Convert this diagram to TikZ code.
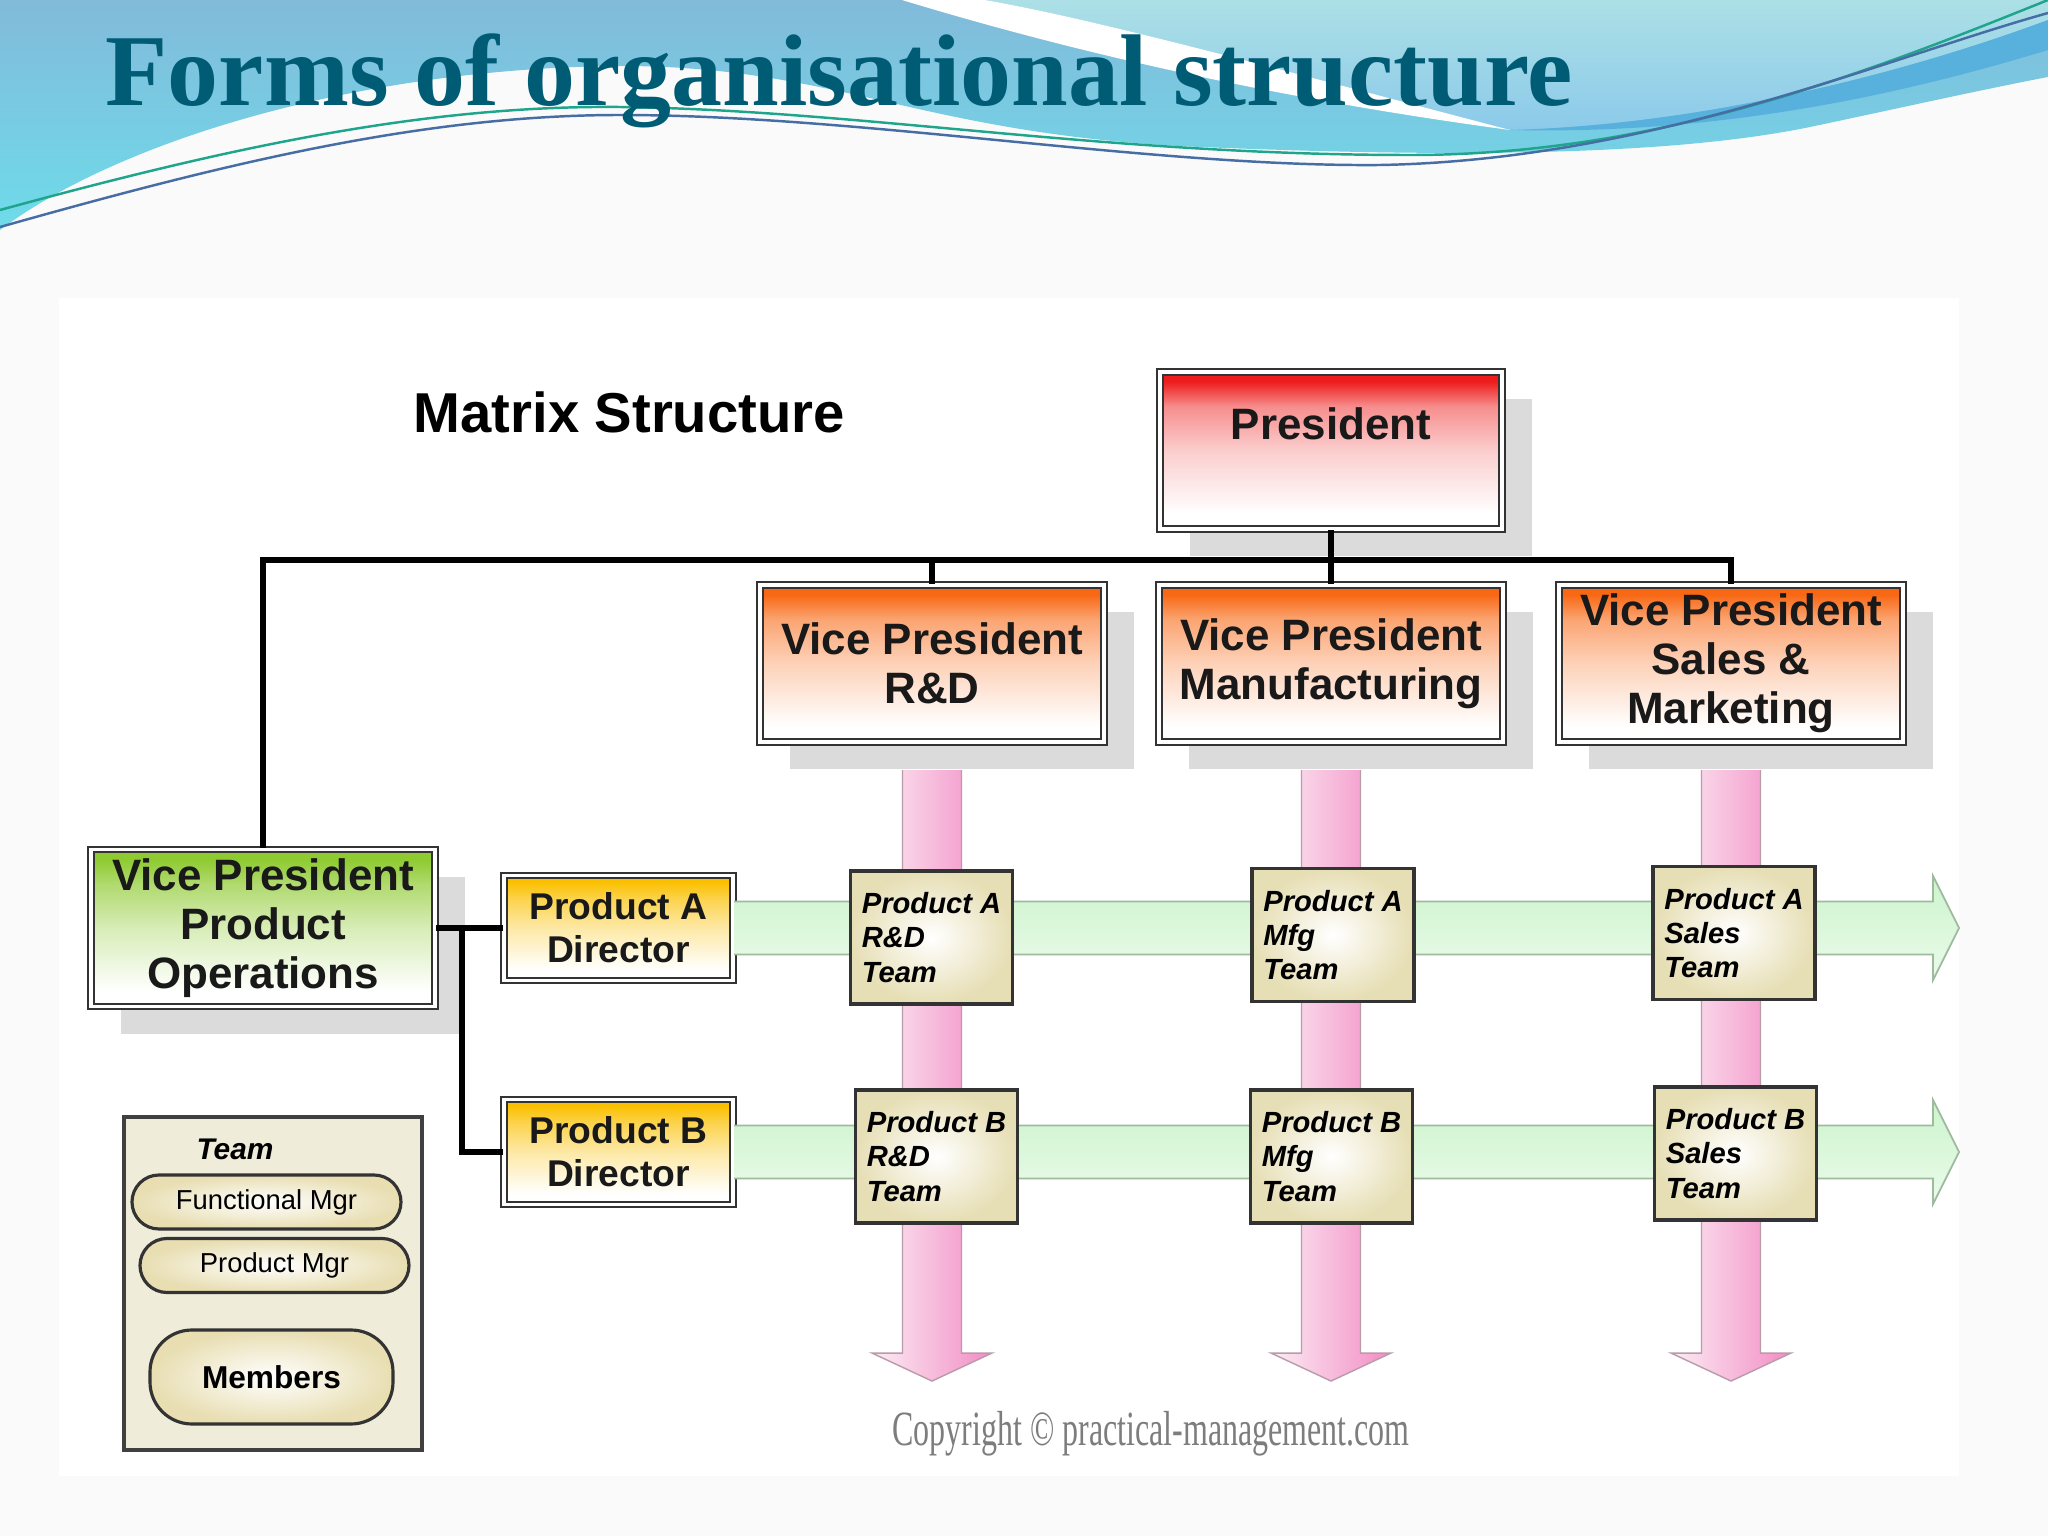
\documentclass[tikz,border=0pt]{standalone}
\usepackage{fontspec}
\setmainfont{Liberation Serif}
\setsansfont{Liberation Sans}
\usetikzlibrary{calc,shadows,shapes.misc}

\definecolor{titleteal}{RGB}{0,92,116}
\definecolor{skyblue}{RGB}{130,186,218}
\definecolor{skycyan}{RGB}{110,220,234}
\definecolor{palecyan}{RGB}{172,224,230}
\definecolor{softblue}{RGB}{140,202,234}
\definecolor{deepcyan}{RGB}{88,176,220}
\definecolor{waveteal}{RGB}{30,165,140}
\definecolor{waveblue}{RGB}{70,110,165}
\definecolor{presred}{RGB}{238,28,28}
\definecolor{vporange}{RGB}{248,104,20}
\definecolor{opsgreen}{RGB}{142,202,48}
\definecolor{dirgold}{RGB}{250,192,0}
\definecolor{teamtan}{RGB}{230,222,180}
\definecolor{ovaltan}{RGB}{232,222,178}
\definecolor{legendtan}{RGB}{239,237,218}
\definecolor{pinklight}{RGB}{252,236,244}
\definecolor{pinkdeep}{RGB}{242,140,196}
\definecolor{pinkedge}{RGB}{185,155,170}
\definecolor{mint}{RGB}{204,244,204}
\definecolor{mintedge}{RGB}{160,186,160}
\definecolor{inkgrey}{RGB}{125,125,125}

\pgfdeclareverticalshading{presfade}{100bp}{color(0bp)=(white); color(30bp)=(white); color(50bp)=(presred!22!white); color(64bp)=(presred!50!white); color(72bp)=(presred); color(100bp)=(presred)}
\pgfdeclareverticalshading{vpfade}{100bp}{color(0bp)=(white); color(30bp)=(white); color(50bp)=(vporange!30!white); color(64bp)=(vporange!60!white); color(72bp)=(vporange); color(100bp)=(vporange)}
\pgfdeclareverticalshading{opsfade}{100bp}{color(0bp)=(white); color(30bp)=(white); color(50bp)=(opsgreen!35!white); color(64bp)=(opsgreen!70!white); color(72bp)=(opsgreen); color(100bp)=(opsgreen)}
\pgfdeclareverticalshading{dirfade}{100bp}{color(0bp)=(white); color(30bp)=(white); color(50bp)=(dirgold!35!white); color(64bp)=(dirgold!70!white); color(72bp)=(dirgold); color(100bp)=(dirgold)}

\begin{document}
\begin{tikzpicture}[
  font=\sffamily,
  wire/.style={draw=black, line width=1.8pt},
  box/.style={draw=black!80, double=white, double distance=0.9pt, line width=0.6pt, shade,
              align=center, text=black!90, font=\sffamily\bfseries\fontsize{12.5}{14}\selectfont},
  boxshadow/.style={drop shadow={shadow xshift=0.3cm, shadow yshift=-0.27cm, fill=black!14, opacity=1}},
  boss/.style={box, boxshadow, shading=presfade, minimum width=3.42cm, minimum height=1.57cm,
               text height=0.35cm, text depth=0.56cm},
  vp/.style={box, boxshadow, shading=vpfade, minimum width=3.44cm, minimum height=1.57cm, inner sep=0pt},
  ops/.style={box, boxshadow, shading=opsfade, minimum width=3.44cm, minimum height=1.57cm, inner sep=0pt},
  director/.style={box, shading=dirfade, minimum width=2.29cm, minimum height=1.05cm, inner sep=0pt,
                   font=\sffamily\bfseries\fontsize{10.6}{12.2}\selectfont},
  team/.style={draw=black!80, line width=1pt, shade, inner color=white, outer color=teamtan,
               minimum width=1.62cm, minimum height=1.33cm, inner sep=0pt, align=left,
               font=\sffamily\bfseries\itshape\fontsize{8.3}{9.7}\selectfont},
  keybox/.style={draw=black!75, line width=1pt, fill=legendtan, minimum width=2.98cm, minimum height=3.33cm},
  keyhead/.style={inner sep=0pt, font=\sffamily\bfseries\itshape\fontsize{8.5}{10}\selectfont},
  mgr/.style={rounded rectangle, draw=black!80, line width=0.9pt, shade, inner color=white, outer color=ovaltan,
              minimum width=2.69cm, minimum height=0.54cm, inner sep=0pt, font=\sffamily\fontsize{7.8}{9}\selectfont},
  members/.style={rectangle, rounded corners=0.42cm, draw=black!80, line width=0.9pt, shade, inner color=white,
                  outer color=ovaltan, minimum width=2.43cm, minimum height=0.94cm,
                  font=\sffamily\bfseries\fontsize{9}{11}\selectfont}
]
\useasboundingbox (0,0) rectangle (20.48,-15.36);

% slide and header
\fill[black!2] (0,0) rectangle (20.48,-15.36);
\fill[white] (0.59,-2.98) rectangle (19.59,-14.76);
\shade[top color=skyblue, bottom color=skycyan] (0,0) -- (20.48,0) -- (20.48,-0.77)
  .. controls (19.8,-0.9) and (19.0,-1.08) .. (18.1,-1.27)
  .. controls (16.5,-1.6) and (14.0,-1.55) .. (12.0,-1.47)
  .. controls (9.2,-1.35) and (8.4,-0.66) .. (6.2,-0.66)
  .. controls (3.6,-0.68) and (1.2,-1.4) .. (0,-2.30) -- cycle;
\shade[top color=palecyan, bottom color=softblue] (9.85,0) -- (20.48,0) -- (20.48,-0.2)
  .. controls (19.0,-0.75) and (17.0,-1.25) .. (15.1,-1.30)
  .. controls (13.0,-0.75) and (11.0,-0.2) .. (9.85,0) -- cycle;
\fill[deepcyan] (20.48,-0.2) .. controls (19.0,-0.75) and (17.0,-1.25) .. (15.1,-1.30)
  .. controls (17.2,-1.35) and (19.0,-0.95) .. (20.48,-0.5) -- cycle;
\fill[white] (9.02,0) .. controls (10.5,-0.45) and (12.5,-0.95) .. (15.1,-1.30)
  .. controls (13.0,-0.75) and (11.0,-0.2) .. (9.85,0) -- cycle;
\draw[line width=0.7pt, waveteal] (0,-2.10) .. controls (2.2,-1.5) and (4.2,-1.05) .. (6.2,-1.07)
  .. controls (8.6,-1.1) and (11,-1.55) .. (14.1,-1.55) .. controls (16.5,-1.55) and (18.5,-0.8) .. (20.48,0);
\draw[line width=0.7pt, waveblue] (0,-2.27) .. controls (2.2,-1.65) and (4.2,-1.15) .. (6.2,-1.15)
  .. controls (8.6,-1.15) and (11.5,-1.67) .. (13.8,-1.65) .. controls (16.5,-1.6) and (18.8,-0.6) .. (20.48,-0.13);
\node[anchor=base west, inner sep=0pt, text=titleteal, font=\rmfamily\bfseries\fontsize{29}{34}\selectfont]
  (title) at (1.05,-1.06) {Forms of organisational structure};

\node[anchor=base west, inner sep=0pt, font=\sffamily\bfseries\fontsize{16}{19}\selectfont]
  (mtitle) at (4.13,-4.33) {Matrix Structure};

% line managers
\node[boss] (pres) at (13.31,-4.505) {President};
\node[vp] (vprd) at (9.32,-6.635) {Vice President\\R\&D};
\node[vp] (vpmfg) at (13.31,-6.635) {Vice President\\Manufacturing};
\node[vp] (vpsm) at (17.31,-6.635) {Vice President\\Sales \&\\Marketing};
\node[ops] (vpops) at (2.63,-9.28) {Vice President\\Product\\Operations};
\node[director] (pad) at (6.185,-9.28) {Product A\\Director};
\node[director] (pbd) at (6.185,-11.52) {Product B\\Director};

% product and function flows
\foreach \d in {pad,pbd}
  \shade[top color=mint, bottom color=mint!40!white, draw=mintedge, line width=0.5pt]
    ($(\d.east)+(0,0.265)$) -- ($(\d.east)+(11.99,0.265)$) -- ($(\d.east)+(11.99,0.52)$)
    -- ($(\d.east)+(12.25,0)$) -- ($(\d.east)+(11.99,-0.52)$) -- ($(\d.east)+(11.99,-0.265)$)
    -- ($(\d.east)+(0,-0.265)$);
\foreach \v in {vprd,vpmfg,vpsm}
  \shade[left color=pinklight, right color=pinkdeep, draw=pinkedge, line width=0.4pt]
    ($(\v.south)+(-0.295,-0.27)$) -- ($(\v.south)+(-0.295,-6.10)$) -- ($(\v.south)+(-0.6,-6.10)$)
    -- ($(\v.south)+(0,-6.38)$) -- ($(\v.south)+(0.6,-6.10)$) -- ($(\v.south)+(0.295,-6.10)$)
    -- ($(\v.south)+(0.295,-0.27)$);

% teams
\node[team] (ard) at (9.315,-9.375) {Product A\\R\&D\\Team};
\node[team] (amfg) at (13.33,-9.35) {Product A\\Mfg\\Team};
\node[team] (asm) at (17.34,-9.33) {Product A\\Sales\\Team};
\node[team] (brd) at (9.365,-11.565) {Product B\\R\&D\\Team};
\node[team] (bmfg) at (13.315,-11.565) {Product B\\Mfg\\Team};
\node[team] (bsm) at (17.355,-11.535) {Product B\\Sales\\Team};

% reporting lines
\draw[wire] (pres.south) -- ++(0,-0.30) coordinate (bus);
\draw[wire] (bus) -| (vprd.north);
\draw[wire] (bus) -| (vpmfg.north);
\draw[wire] (bus) -| (vpsm.north);
\draw[wire] (bus) -| (vpops.north);
\draw[wire] (vpops.east) -- (pad.west);
\draw[wire] ($(vpops.east)!0.39!(pad.west)$) |- (pbd.west);

% key
\node[keybox] (key) at (2.73,-12.835) {};
\node[keyhead] (keytitle) at (2.35,-11.49) {Team};
\node[mgr] (fmgr) at (2.665,-12.02) {Functional Mgr};
\node[mgr] (pmgr) at (2.745,-12.655) {Product Mgr};
\node[members] (mem) at (2.715,-13.77) {Members};

\node[anchor=base, inner sep=0pt, text=inkgrey, font=\rmfamily\fontsize{14}{17}\selectfont]
  (copy) at (11.51,-14.45) {\scalebox{0.65}[1]{Copyright © practical-management.com}};
\end{tikzpicture}
\end{document}
